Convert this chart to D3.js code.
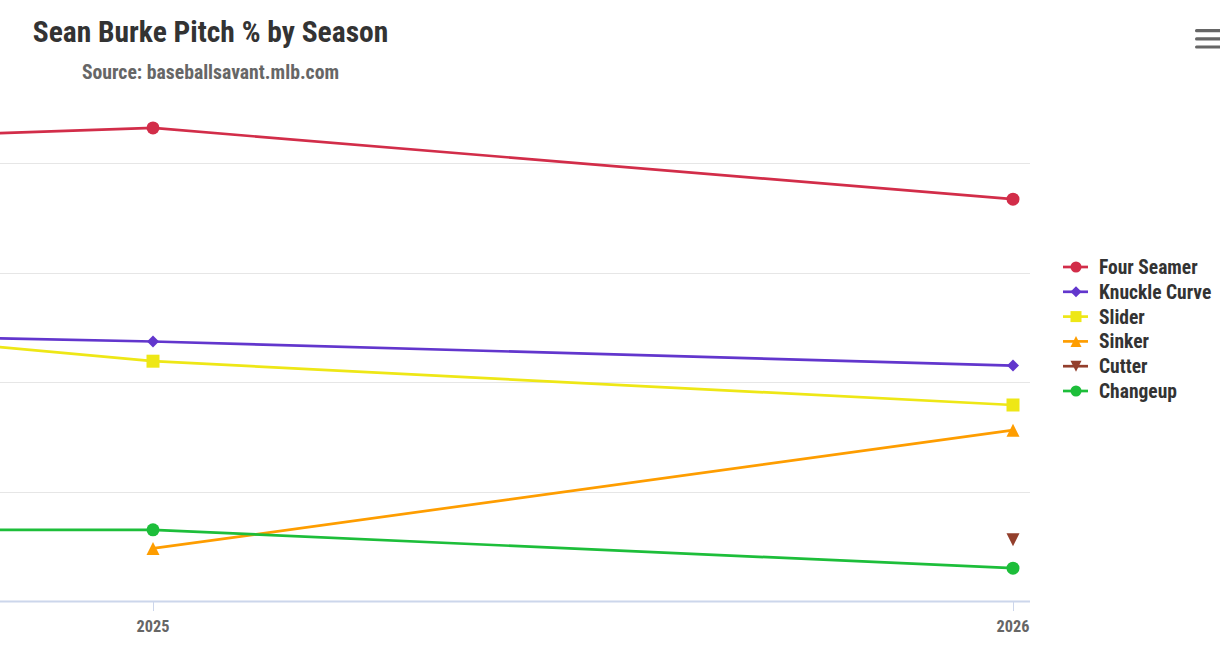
<!DOCTYPE html>
<html>
<head>
<meta charset="utf-8">
<script src="https://cdn.jsdelivr.net/npm/d3@7"></script>
<style>
	html, body { margin: 0; padding: 0; background: #fff; overflow: hidden; }
	svg { display: block; font-family: "Roboto Condensed", Roboto, sans-serif; }
</style>
</head>
<body>
<div id="chart"></div>
<script>
	// season data (pitch usage %)
	const years = [2024, 2025, 2026];
	const pitchNames = ["Four Seamer", "Knuckle Curve", "Slider", "Sinker", "Cutter", "Changeup"];
	const fourSeamer = [40.6, 43.2, 36.7];
	const knuckleCurve = [25.3, 23.7, 21.5];
	const slider = [29.1, 21.9, 17.9];
	const sinker = [null, 4.8, 15.6];
	const cutter = [null, null, 5.6];
	const changeup = [6.5, 6.5, 3.0];
	const yTicks = [0, 10, 20, 30, 40];

	const colors = ["#d22d49", "#6236cd", "#eee716", "#fe9d00", "#933f2c", "#1dbe3a"];
	const symbols = ["circle", "diamond", "square", "triangle", "triangle-down", "circle"];
	const seriesValues = [fourSeamer, knuckleCurve, slider, sinker, cutter, changeup];

	const series = pitchNames.map((name, i) => ({
		name: name,
		color: colors[i],
		symbol: symbols[i],
		points: years.map((y, j) => ({ year: y, value: seriesValues[i][j] }))
	}));

	const width = 1220, height = 650;
	// the plot is scrolled so the first season sits off the left edge
	const plot = { left: -707, right: 1013, top: 163, bottom: 601, pad: 17 };

	const x = d3.scaleLinear().domain([2024, 2026]).range([plot.left, plot.right]);
	const y = d3.scaleLinear().domain([0, 40]).range([plot.bottom, plot.top]);

	const svg = d3.select("#chart").append("svg")
		.attr("width", width)
		.attr("height", height);

	// grid lines
	svg.append("g")
		.selectAll("line")
		.data(yTicks.slice(1))
		.join("line")
		.attr("x1", plot.left - plot.pad)
		.attr("x2", plot.right + plot.pad)
		.attr("y1", d => Math.round(y(d)) + 0.5)
		.attr("y2", d => Math.round(y(d)) + 0.5)
		.attr("stroke", "#e6e6e6")
		.attr("stroke-width", 1);

	// x axis
	const xAxis = svg.append("g");
	xAxis.append("line")
		.attr("x1", plot.left - plot.pad)
		.attr("x2", plot.right + plot.pad)
		.attr("y1", plot.bottom + 0.5)
		.attr("y2", plot.bottom + 0.5)
		.attr("stroke", "#ccd6eb")
		.attr("stroke-width", 2);
	xAxis.selectAll(".tick")
		.data(years)
		.join("line")
		.attr("x1", d => Math.round(x(d)) + 0.5)
		.attr("x2", d => Math.round(x(d)) + 0.5)
		.attr("y1", plot.bottom)
		.attr("y2", plot.bottom + 10)
		.attr("stroke", "#ccd6eb")
		.attr("stroke-width", 1);
	// only the seasons that are scrolled into view get a label
	xAxis.selectAll("text")
		.data(years.filter(d => x(d) >= 0))
		.join("text")
		.attr("x", d => x(d))
		.attr("y", plot.bottom + 31)
		.attr("text-anchor", "middle")
		.attr("fill", "#666666")
		.style("font-size", "16.3px")
		.style("font-weight", "bold")
		.text(d => d);

	function markerPath(symbol, cx, cy, r) {
		switch (symbol) {
			case "circle":
				return `M${cx - r},${cy}a${r},${r} 0 1,0 ${2 * r},0a${r},${r} 0 1,0 ${-2 * r},0Z`;
			case "diamond":
				return `M${cx},${cy - r}L${cx + r},${cy}L${cx},${cy + r}L${cx - r},${cy}Z`;
			case "square":
				return `M${cx - r},${cy - r}h${2 * r}v${2 * r}h${-2 * r}Z`;
			case "triangle":
				return `M${cx},${cy - r}L${cx + r},${cy + r}L${cx - r},${cy + r}Z`;
			case "triangle-down":
				return `M${cx - r},${cy - r}L${cx + r},${cy - r}L${cx},${cy + r}Z`;
		}
	}

	const line = d3.line()
		.defined(d => d.value != null)
		.x(d => x(d.year))
		.y(d => y(d.value));

	const seriesG = svg.append("g")
		.selectAll("g")
		.data(series)
		.join("g");

	seriesG.append("path")
		.attr("d", d => line(d.points))
		.attr("fill", "none")
		.attr("stroke", d => d.color)
		.attr("stroke-width", 2.7)
		.attr("stroke-linejoin", "round")
		.attr("stroke-linecap", "round");

	seriesG.selectAll(".marker")
		.data(s => s.points.filter(p => p.value != null).map(p => ({ s: s, p: p })))
		.join("path")
		.attr("d", d => markerPath(d.s.symbol, x(d.p.year), y(d.p.value), d.s.symbol === "diamond" ? 6 : 6.5))
		.attr("fill", d => d.s.color);

	// title and subtitle
	svg.append("text")
		.attr("x", 210.5)
		.attr("y", 42)
		.attr("text-anchor", "middle")
		.attr("fill", "#333333")
		.style("font-size", "29.5px")
		.style("font-weight", "bold")
		.text("Sean Burke Pitch % by Season");

	svg.append("text")
		.attr("x", 210.5)
		.attr("y", 79)
		.attr("text-anchor", "middle")
		.attr("fill", "#666666")
		.style("font-size", "19.7px")
		.style("font-weight", "bold")
		.text("Source: baseballsavant.mlb.com");

	// legend
	const legend = svg.append("g")
		.attr("transform", "translate(1063,267)");
	const item = legend.selectAll("g")
		.data(series)
		.join("g")
		.attr("transform", (d, i) => `translate(0,${i * 24.8})`);
	item.append("line")
		.attr("x1", 0)
		.attr("x2", 25)
		.attr("stroke", d => d.color)
		.attr("stroke-width", 2.7);
	item.append("path")
		.attr("d", d => markerPath(d.symbol, 13, 0, 5.5))
		.attr("fill", d => d.color);
	item.append("text")
		.attr("x", 36)
		.attr("y", 7)
		.attr("fill", "#333333")
		.style("font-size", "19.5px")
		.style("font-weight", "bold")
		.text(d => d.name);

	// context menu button
	svg.append("g")
		.selectAll("rect")
		.data([0, 1, 2])
		.join("rect")
		.attr("x", 1195)
		.attr("y", d => 29 + d * 8.2)
		.attr("width", 30)
		.attr("height", 3.2)
		.attr("rx", 1.5)
		.attr("fill", "#666666");
</script>
</body>
</html>
